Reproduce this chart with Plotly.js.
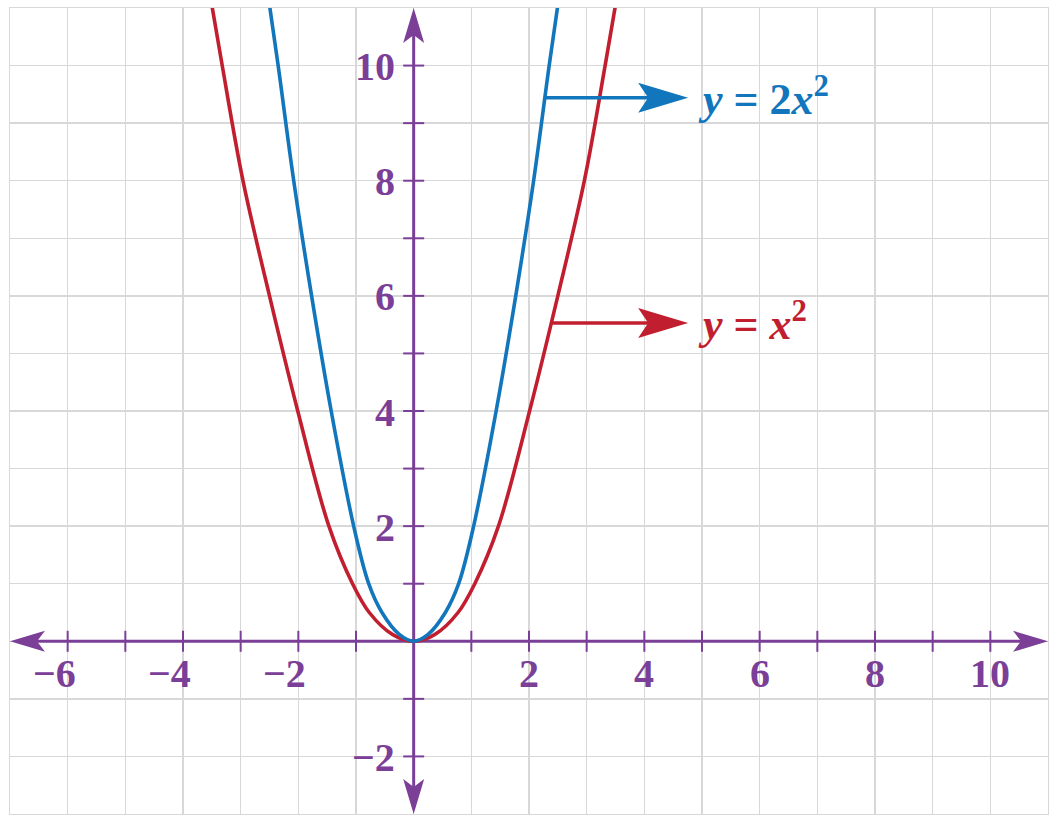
<!DOCTYPE html>
<html>
<head>
<meta charset="utf-8">
<script src="https://cdn.plot.ly/plotly-3.0.1.min.js"></script>
<style>html,body{margin:0;padding:0;background:#fff;}#chart{width:1057px;height:833px;}</style>
</head>
<body>
<div id="chart"></div>
<script>
// ---- data ----
const redX  = [-3.50, -3.32, -2.96, -2.50, -2.01, -1.47, -1.06, -0.77, -0.37, 0, 0.37, 0.77, 1.06, 1.47, 2.01, 2.50, 2.96, 3.32, 3.50];
const redY  = [11.05, 10, 8, 6, 4, 2, 1, 0.5, 0.12, 0, 0.12, 0.5, 1, 2, 4, 6, 8, 10, 11.05];
const blueX = [-2.50, -2.35, -2.08, -1.77, -1.43, -1.04, -0.78, -0.55, -0.25, 0, 0.25, 0.55, 0.78, 1.04, 1.43, 1.77, 2.08, 2.35, 2.50];
const blueY = [11.05, 10, 8, 6, 4, 2, 1, 0.5, 0.12, 0, 0.12, 0.5, 1, 2, 4, 6, 8, 10, 11.05];

const xTicks  = [-6, -5, -4, -3, -2, -1, 1, 2, 3, 4, 5, 6, 7, 8, 9, 10];
const yTicks  = [-2, -1, 1, 2, 3, 4, 5, 6, 7, 8, 9, 10];
const xLabels = [-6, -4, -2, 2, 4, 6, 8, 10];
const yLabels = [-2, 2, 4, 6, 8, 10];

const xRange = [-7, 11];
const yRange = [-3, 11];

// label callouts
const calloutStartX = [2.29, 2.40];
const calloutTipX   = [4.76, 4.76];
const calloutY      = [9.44, 5.53];
const calloutLabelX = [4.96, 4.96];
const calloutText   = ['<b><i>y</i> = 2<i>x</i><sup>2</sup></b>', '<b><i>y</i> = <i>x</i><sup>2</sup></b>'];

const PURPLE = '#7B3F98';
const RED = '#C11F2F';
const BLUE = '#1276BC';
const GRID = '#D8D8D8';
const calloutColor = [BLUE, RED];

function minus(v){ return v < 0 ? '\u2212' + Math.abs(v) : String(v); }

const traces = [
  {x: redX, y: redY, mode: 'lines', line: {color: RED, width: 3.6, shape: 'spline', smoothing: 1}, hoverinfo: 'skip'},
  {x: blueX, y: blueY, mode: 'lines', line: {color: BLUE, width: 3.6, shape: 'spline', smoothing: 1}, hoverinfo: 'skip'}
];

const shapes = [];
shapes.push({type: 'line', xref: 'x', yref: 'y', x0: xRange[0] + 0.3, x1: xRange[1] - 0.3, y0: 0, y1: 0, line: {color: PURPLE, width: 3}, layer: 'between'});
shapes.push({type: 'line', xref: 'x', yref: 'y', x0: 0, x1: 0, y0: yRange[0] + 0.3, y1: yRange[1] - 0.3, line: {color: PURPLE, width: 3}, layer: 'between'});
function head(tx, ty, dir, L, h, n, color, layer){
  let p;
  if (dir === 'right') p = `M0,0 L${-L},${h} L${-L+n},0 L${-L},${-h} Z`;
  if (dir === 'left')  p = `M0,0 L${L},${h} L${L-n},0 L${L},${-h} Z`;
  if (dir === 'up')    p = `M0,0 L${h},${-L} L0,${-L+n} L${-h},${-L} Z`;
  if (dir === 'down')  p = `M0,0 L${h},${L} L0,${L-n} L${-h},${L} Z`;
  return {type: 'path', xref: 'x', yref: 'y', xsizemode: 'pixel', ysizemode: 'pixel', xanchor: tx, yanchor: ty,
          path: p, fillcolor: color, line: {width: 0}, layer: layer};
}
shapes.push(head(xRange[1], 0, 'right', 35, 10.5, 8, PURPLE, 'between'));
shapes.push(head(xRange[0], 0, 'left', 35, 10.5, 8, PURPLE, 'between'));
shapes.push(head(0, yRange[1], 'up', 35, 10.5, 8, PURPLE, 'between'));
shapes.push(head(0, yRange[0], 'down', 35, 10.5, 8, PURPLE, 'between'));
xTicks.forEach(v => shapes.push({type: 'line', xref: 'x', yref: 'y', x0: v, x1: v, ysizemode: 'pixel', yanchor: 0, y0: -10.5, y1: 10.5, line: {color: PURPLE, width: 2}, layer: 'between'}));
yTicks.forEach(v => shapes.push({type: 'line', xref: 'x', yref: 'y', y0: v, y1: v, xsizemode: 'pixel', xanchor: 0, x0: -10.5, x1: 10.5, line: {color: PURPLE, width: 2}, layer: 'between'}));
calloutY.forEach((y, i) => {
  shapes.push({type: 'line', xref: 'x', yref: 'y', x0: calloutStartX[i], x1: calloutTipX[i] - 0.5, y0: y, y1: y, line: {color: calloutColor[i], width: 3.5}, layer: 'above'});
  shapes.push(head(calloutTipX[i], y, 'right', 50, 15, 10, calloutColor[i], 'above'));
});

const annotations = [];
const tickFont = {family: '"Liberation Serif", "Times New Roman", serif', size: 40, color: PURPLE};
xLabels.forEach(v => {
  const neg = v < 0;
  annotations.push({x: v, y: 0, xref: 'x', yref: 'y', text: '<b>' + minus(v) + '</b>', showarrow: false,
    xanchor: neg ? 'right' : 'center', xshift: neg ? 10 : 0, yanchor: 'middle', yshift: -32, font: tickFont});
});
yLabels.forEach(v => {
  annotations.push({x: 0, y: v, xref: 'x', yref: 'y', text: '<b>' + minus(v) + '</b>', showarrow: false,
    xanchor: 'right', xshift: -17, yanchor: 'middle', yshift: -1, font: tickFont});
});
calloutY.forEach((y, i) => {
  annotations.push({x: calloutLabelX[i], y: y, xref: 'x', yref: 'y', text: calloutText[i], showarrow: false,
    xanchor: 'left', xshift: -4, yanchor: 'middle', yshift: 1,
    font: {family: '"Liberation Serif", "Times New Roman", serif', size: 44, color: calloutColor[i]}});
});

const axisCommon = {showgrid: true, gridcolor: GRID, gridwidth: 1.3, dtick: 1, tick0: 0, zeroline: false,
  showticklabels: false, ticks: '', showline: true, mirror: true, linecolor: GRID, linewidth: 1.3, fixedrange: true};

const layout = {
  width: 1057, height: 833,
  margin: {l: 10, r: 9, t: 8, b: 19, pad: 0},
  paper_bgcolor: '#ffffff', plot_bgcolor: '#ffffff',
  showlegend: false,
  xaxis: Object.assign({range: xRange}, axisCommon),
  yaxis: Object.assign({range: yRange}, axisCommon),
  shapes: shapes,
  annotations: annotations
};

Plotly.newPlot('chart', traces, layout, {staticPlot: true, displayModeBar: false});
</script>
</body>
</html>
